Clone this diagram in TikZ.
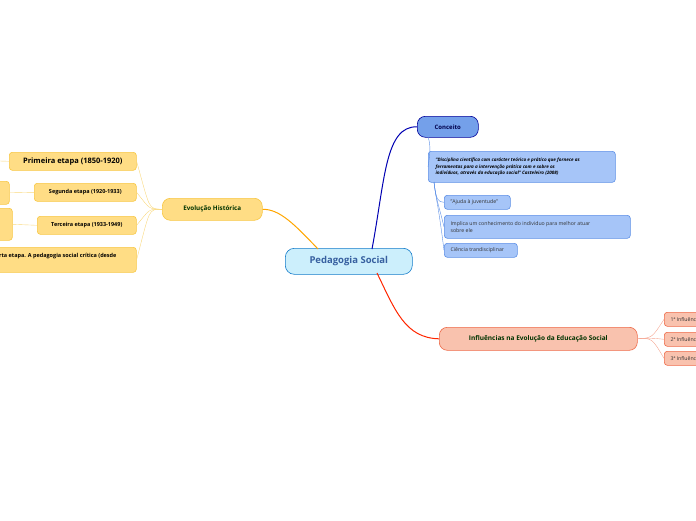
\documentclass[tikz,border=0pt]{standalone}
\usepackage{fontspec}
\setmainfont{Open Sans}
\begin{document}
\begin{tikzpicture}[x=1pt,y=-1pt,
  box/.style={draw,rounded corners=3pt,line width=0.6pt,inner sep=0pt,anchor=north west},
  bl/.style={box,fill=blueL,draw=blueD},
  yl/.style={box,fill=yelL,draw=yelD},
  rl/.style={box,fill=redL,draw=redD},
  lbl/.style={font=\fontsize{5.2}{7}\selectfont,text=black!80}]
\definecolor{blueL}{HTML}{A6C5F8}\definecolor{blueD}{HTML}{5C8FE6}
\definecolor{yelL}{HTML}{FFDD85}\definecolor{yelD}{HTML}{F7C744}
\definecolor{redL}{HTML}{F9C2AE}\definecolor{redD}{HTML}{EE6A48}
\useasboundingbox (0,0) rectangle (696,520);
\clip (0,0) rectangle (696,520);
\coordinate (cb) at (372,249);
\coordinate (cr) at (377,273);
\coordinate (co) at (318,249);
% central
\node[box,fill=cyan!20,draw=cyan!60!blue,rounded corners=9pt,minimum width=127pt,minimum height=26pt] (c) at (285,248) {};
\node[font=\bfseries\fontsize{9.5}{11}\selectfont,text=cyan!40!blue!80!black] at (c) {Pedagogia Social};
% Conceito
\node[box,fill=blueD!85,draw=blue!60!black,rounded corners=8pt,minimum width=61pt,minimum height=21pt] (k) at (417,116) {};
\node[font=\bfseries\fontsize{6}{7}\selectfont,text=blue!30!black] at (k) {Conceito};
\node[bl,minimum width=187pt,minimum height=31pt] (q) at (428,151) {};
\node[font=\bfseries\itshape\fontsize{4.6}{6.5}\selectfont,align=left,anchor=west] at ([xshift=4pt]q.west) {"Disciplina científica com carácter teórico e prático que fornece as\\ ferramentas para a intervenção prática com e sobre os\\ indivíduos, através da educação social" Casteleiro (2008)};
\node[bl,minimum width=66pt,minimum height=14pt] (a1) at (444,195) {};
\node[lbl,anchor=west] at ([xshift=3pt]a1.west) {"Ajuda à juventude"};
\node[bl,minimum width=186pt,minimum height=23pt] (a2) at (444,215) {};
\node[lbl,anchor=west,align=left] at ([xshift=3pt]a2.west) {Implica um conhecimento do individuo para melhor atuar\\ sobre ele};
\node[bl,minimum width=73pt,minimum height=14pt] (a3) at (444,243) {};
\node[lbl,anchor=west] at ([xshift=3pt]a3.west) {Ciência trandisciplinar};
% Influencias
\node[box,fill=redL,draw=redD,rounded corners=8pt,minimum width=198pt,minimum height=23pt] (f) at (439,327) {};
\node[font=\bfseries\fontsize{6.5}{7}\selectfont,text=green!20!black] at (f) {Influências na Evolução da Educação Social};
\foreach \i/\y in {1/312,2/332,3/351}{
  \node[rl,minimum width=45pt,minimum height=14pt] (f\i) at (664,\y) {};
  \node[lbl,anchor=west] at ([xshift=3pt]f\i.west) {\i ª Influência};
}
% Evolucao
\node[box,fill=yelL,draw=yelD,rounded corners=8pt,minimum width=100pt,minimum height=22pt] (e) at (162,198) {};
\node[font=\bfseries\fontsize{6.3}{7}\selectfont,text=green!20!black] at (e) {Evolução Histórica};
\node[yl,minimum width=127pt,minimum height=18pt] (e1) at (9,152) {};
\node[font=\bfseries\fontsize{7.5}{8}\selectfont] at (e1) {Primeira etapa (1850-1920)};
\node[yl,minimum width=102pt,minimum height=18pt] (e2) at (34,183) {};
\node[font=\bfseries\fontsize{5.5}{6}\selectfont] at (e2) {Segunda etapa (1920-1933)};
\node[yl,minimum width=99pt,minimum height=18pt] (e3) at (37,216) {};
\node[font=\bfseries\fontsize{5.5}{6}\selectfont] at (e3) {Terceira etapa (1933-1949)};
\node[yl,minimum width=146pt,minimum height=25pt] (e4) at (-10,247) {};
\node[font=\bfseries\fontsize{5.5}{6}\selectfont,anchor=north east] at (120,250) {Quarta etapa. A pedagogia social crítica (desde};
\node[yl,minimum width=19pt,minimum height=23pt] (g2) at (-10,181) {};
\node[yl,minimum width=22pt,minimum height=32pt] (g3) at (-10,208) {};
\coordinate (g1) at (0,161);
% connectors
\draw[blue!70!black,line width=1pt] (cb) .. controls (385,180) and (385,126) .. (k.west);
\draw[red!70!orange,line width=1pt] (cr) .. controls (395,310) and (405,338) .. (f.west);
\draw[orange!70!yellow,line width=1pt] (co) .. controls (295,225) and (280,209) .. (e.east);
\draw[blueD] (428,137) .. controls (431,145) and (430,155) .. (q.west);
\foreach \t in {a1,a2,a3} \draw[blueD] (434,182) .. controls (436,200) and (438,202) .. (\t.west);
\foreach \t in {f1,f2,f3} \draw[redD!60] (f.east) .. controls (652,338) and (652,338) .. (\t.west);
\foreach \t in {e1,e2,e3,e4} \draw[yelD!70] (e.west) .. controls (148,209) and (150,209) .. (\t.east);
\draw[yelD!70] (e1.west) -- (g1);
\draw[yelD!70] (e2.west) -- (g2.east);
\draw[yelD!70] (e3.west) -- (g3.east);
\end{tikzpicture}
\end{document}
